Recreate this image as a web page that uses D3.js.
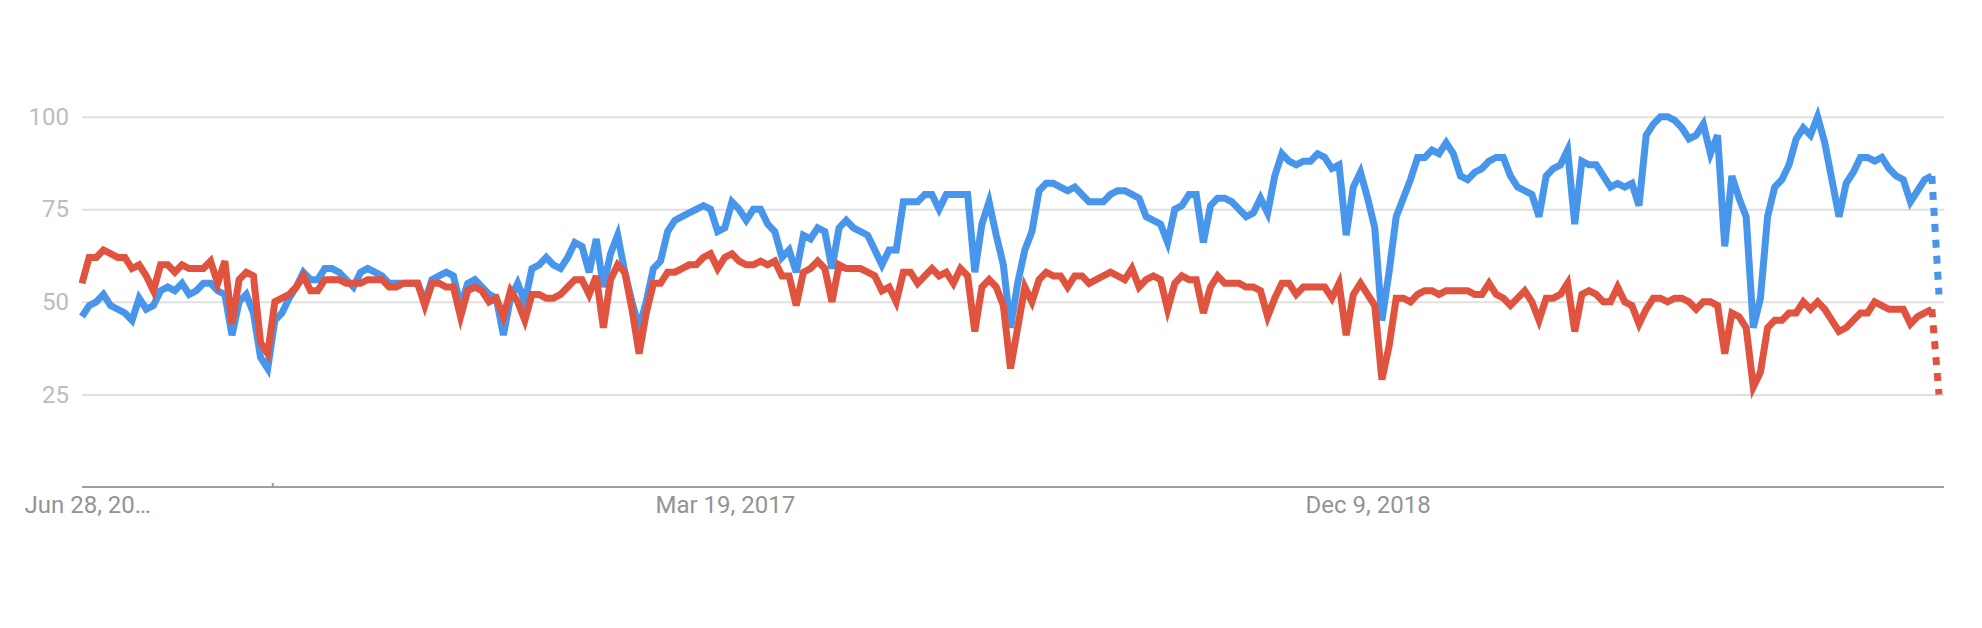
<!DOCTYPE html>
<html>
<head>
<meta charset="utf-8">
<script src="https://cdn.jsdelivr.net/npm/d3@7"></script>
<style>
  html, body { margin: 0; padding: 0; background: #fff; }
  svg { display: block; font-family: Roboto, "Noto Sans", Arial, sans-serif; }
</style>
</head>
<body>
<div id="chart"></div>
<script>
// weekly interest, first week starts Jun 28, 2015; last week is partial
var startWeek = new Date(Date.UTC(2015, 5, 28));

var blueValues = [
  46, 49, 50, 52, 49, 48, 47, 45, 51, 48, 49, 53, 54, 53, 55, 52, 53, 55, 55, 53,
  52, 41, 50, 52, 47, 35, 32, 45, 47, 51, 54, 58, 56, 56, 59, 59, 58,
  56, 54, 58, 59, 58, 57, 55, 55, 55, 55, 55, 50, 56, 57, 58, 57, 49, 55, 56, 54,
  52, 51, 41, 51, 55, 50, 59, 60, 62, 60, 59, 62, 66, 65, 58, 67, 54, 63,
  68, 58, 50, 43, 50, 59, 61, 69, 72, 73, 74, 75, 76, 75, 69, 70, 77, 75, 72, 75,
  75, 71, 69, 62, 64, 58, 68, 67, 70, 69, 59, 70, 72, 70, 69, 68, 64, 60,
  64, 64, 77, 77, 77, 79, 79, 75, 79, 79, 79, 79, 58, 71, 77, 68, 60, 43, 55, 64,
  69, 80, 82, 82, 81, 80, 81, 79, 77, 77, 77, 79, 80, 80, 79, 78, 73,
  72, 71, 66, 75, 76, 79, 79, 66, 76, 78, 78, 77, 75, 73, 74, 78, 74, 84, 90, 88,
  87, 88, 88, 90, 89, 86, 87, 68, 81, 85, 78, 70, 45, 58, 73, 78, 83,
  89, 89, 91, 90, 93, 90, 84, 83, 85, 86, 88, 89, 89, 84, 81, 80, 79, 73, 84, 86,
  87, 91, 71, 88, 87, 87, 84, 81, 82, 81, 82, 76, 95, 98, 100, 100, 99,
  97, 94, 95, 98, 90, 95, 65, 84, 78, 73, 43, 51, 73, 81, 83, 87, 94, 97, 95, 100,
  93, 83, 73, 82, 85, 89, 89, 88, 89, 86, 84, 83, 77, 80, 83, 84, 52
];

var redValues = [
  55, 62, 62, 64, 63, 62, 62, 59, 60, 57, 53, 60, 60, 58, 60, 59, 59, 59, 61, 55,
  61, 44, 56, 58, 57, 39, 36, 50, 51, 52, 54, 57, 53, 53, 56, 56, 56,
  55, 55, 55, 56, 56, 56, 54, 54, 55, 55, 55, 49, 55, 55, 54, 54, 46, 53, 54, 53,
  50, 51, 46, 53, 50, 45, 52, 52, 51, 51, 52, 54, 56, 56, 52, 57, 43, 56,
  60, 58, 48, 36, 47, 55, 55, 58, 58, 59, 60, 60, 62, 63, 59, 62, 63, 61, 60, 60,
  61, 60, 61, 57, 57, 49, 58, 59, 61, 59, 50, 60, 59, 59, 59, 58, 57, 53,
  54, 50, 58, 58, 55, 57, 59, 57, 58, 55, 59, 57, 42, 54, 56, 54, 49, 32, 43, 54,
  50, 56, 58, 57, 57, 54, 57, 57, 55, 56, 57, 58, 57, 56, 59, 54, 56,
  57, 56, 48, 55, 57, 56, 56, 47, 54, 57, 55, 55, 55, 54, 54, 53, 46, 51, 55, 55,
  52, 54, 54, 54, 54, 51, 55, 41, 52, 55, 52, 49, 29, 38, 51, 51, 50,
  52, 53, 53, 52, 53, 53, 53, 53, 52, 52, 55, 52, 51, 49, 51, 53, 50, 45, 51, 51,
  52, 55, 42, 52, 53, 52, 50, 50, 54, 50, 49, 44, 48, 51, 51, 50, 51,
  51, 50, 48, 50, 50, 49, 36, 47, 46, 43, 27, 31, 43, 45, 45, 47, 47, 50, 48, 50,
  48, 45, 42, 43, 45, 47, 47, 50, 49, 48, 48, 48, 44, 46, 47, 48, 25
];

var yTicks = [25, 50, 75, 100];
var xTickDates = [new Date(Date.UTC(2015, 5, 28)), new Date(Date.UTC(2017, 2, 19)), new Date(Date.UTC(2018, 11, 9))];
var xTickLabels = ["Jun 28, 20\u2026", "Mar 19, 2017", "Dec 9, 2018"];
var noteDate = new Date(Date.UTC(2016, 0, 1));

var W = 1982, H = 628;
var plotLeft = 82, plotRight = 1944, lineRight = 1939;
var yTop = 116.7, yBottom = 487;

var weeks = blueValues.map(function(d, i) { return d3.utcWeek.offset(startWeek, i); });

var svg = d3.select("#chart")
    .append("svg")
    .attr("width", W)
    .attr("height", H);

var x = d3.scaleUtc()
    .domain([weeks[0], weeks[weeks.length - 1]])
    .range([plotLeft, lineRight]);

var y = d3.scaleLinear()
    .domain([0, 100])
    .range([yBottom, yTop]);

// gridlines + y labels
var yAxis = svg.append("g")
    .attr("transform", "translate(" + plotLeft + ",0)")
    .call(d3.axisLeft(y).tickValues(yTicks).tickSize(-(plotRight - plotLeft)).tickPadding(13));
yAxis.select(".domain").remove();
yAxis.selectAll(".tick line").attr("stroke", "#e0e0e0").attr("stroke-width", 2);
yAxis.selectAll(".tick text")
    .attr("fill", "#bdbdbd")
    .style("font-size", "24px")
    .style("font-family", "Roboto");

// baseline
svg.append("line")
    .attr("x1", plotLeft).attr("x2", plotRight)
    .attr("y1", y(0)).attr("y2", y(0))
    .attr("stroke", "#9e9e9e")
    .attr("stroke-width", 2);

// note marker (data collection change)
svg.append("line")
    .attr("x1", x(noteDate)).attr("x2", x(noteDate))
    .attr("y1", y(0) - 4).attr("y2", y(0))
    .attr("stroke", "#9e9e9e")
    .attr("stroke-width", 2);

// x labels
var xAxis = svg.append("g")
    .attr("transform", "translate(0," + y(0) + ")")
    .call(d3.axisBottom(x).tickValues(xTickDates).tickSize(0).tickPadding(0)
        .tickFormat(function(d, i) { return xTickLabels[i]; }));
xAxis.select(".domain").remove();
xAxis.selectAll(".tick text")
    .attr("dy", null)
    .attr("y", 26)
    .attr("fill", "#939393")
    .style("font-size", "24px")
    .style("font-family", "Roboto");
// first label is clipped by the chart edge, so it starts at the left margin
xAxis.selectAll(".tick text").filter(function(d, i) { return i === 0; })
    .attr("text-anchor", "start")
    .attr("x", 24 - plotLeft);

var series = [
    { values: blueValues, color: "#4896ec" },
    { values: redValues, color: "#e0533f" }
];

var line = d3.line()
    .x(function(d) { return x(d.date); })
    .y(function(d) { return y(d.value); });

series.forEach(function(s) {
    var pts = s.values.map(function(v, i) { return { date: weeks[i], value: v }; });
    var n = pts.length;
    // full weeks
    svg.append("path")
        .attr("d", line(pts.slice(0, n - 1)))
        .attr("fill", "none")
        .attr("stroke", s.color)
        .attr("stroke-width", 7);
    // partial last week, dotted
    svg.append("path")
        .attr("d", line(pts.slice(n - 2)))
        .attr("fill", "none")
        .attr("stroke", s.color)
        .attr("stroke-width", 7)
        .attr("stroke-dasharray", "8,8");
});
</script>
</body>
</html>
